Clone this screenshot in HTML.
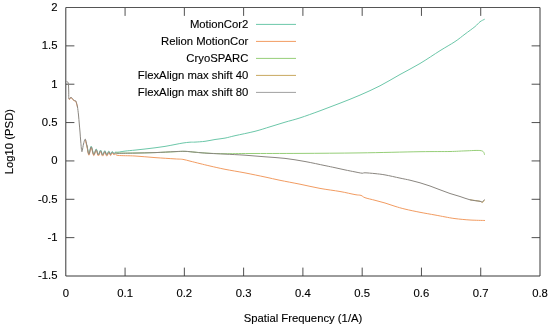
<!DOCTYPE html><html><head><meta charset="utf-8"><style>html,body{margin:0;padding:0;background:#fff;}svg{display:block;}text{font-family:'Liberation Sans', Arial, sans-serif;font-size:11.3px;fill:#000;stroke:#000;stroke-width:0.12px;}</style></head><body>
<svg width="550" height="327" viewBox="0 0 550 327">
<path d="M66.0,45.86h8.4M540.0,45.86h-8.4M66.0,84.21h8.4M540.0,84.21h-8.4M66.0,122.57h8.4M540.0,122.57h-8.4M66.0,160.93h8.4M540.0,160.93h-8.4M66.0,199.29h8.4M540.0,199.29h-8.4M66.0,237.64h8.4M540.0,237.64h-8.4M125.07,276.0v-8.4M125.07,7.5v8.4M184.35,276.0v-8.4M184.35,7.5v8.4M243.62,276.0v-8.4M243.62,7.5v8.4M302.90,276.0v-8.4M302.90,7.5v8.4M362.18,276.0v-8.4M362.18,7.5v8.4M421.45,276.0v-8.4M421.45,7.5v8.4M480.72,276.0v-8.4M480.72,7.5v8.4" stroke="#505050" stroke-width="1" fill="none"/>
<g fill="none" stroke-width="1" stroke-linejoin="round">
<path d="M87.00,145.30C87.32,146.68 88.20,153.45 88.90,153.60C89.60,153.75 90.40,146.13 91.20,146.20C92.00,146.27 92.87,153.53 93.70,154.00C94.53,154.47 95.43,148.95 96.20,149.00C96.97,149.05 97.57,154.12 98.30,154.30C99.03,154.48 99.88,150.07 100.60,150.10C101.32,150.13 101.90,154.40 102.60,154.50C103.30,154.60 104.10,150.70 104.80,150.70C105.50,150.70 106.13,154.43 106.80,154.50C107.47,154.57 108.17,151.20 108.80,151.10C109.43,151.00 110.03,153.83 110.60,153.90C111.17,153.97 111.63,151.60 112.20,151.50C112.77,151.40 113.43,153.20 114.00,153.30C114.57,153.40 114.93,152.28 115.60,152.10C116.27,151.92 116.43,152.37 118.00,152.20C119.57,152.03 122.17,151.45 125.00,151.10C127.83,150.75 131.67,150.45 135.00,150.10C138.33,149.75 141.67,149.38 145.00,149.00C148.33,148.62 151.67,148.23 155.00,147.80C158.33,147.37 161.67,146.95 165.00,146.40C168.33,145.85 172.00,145.07 175.00,144.50C178.00,143.93 180.50,143.38 183.00,143.00C185.50,142.62 188.00,142.35 190.00,142.20C192.00,142.05 192.50,142.25 195.00,142.10C197.50,141.95 201.67,141.73 205.00,141.30C208.33,140.87 211.67,140.03 215.00,139.50C218.33,138.97 221.67,138.73 225.00,138.10C228.33,137.47 230.00,136.83 235.00,135.70C240.00,134.57 249.17,132.78 255.00,131.30C260.83,129.82 265.00,128.32 270.00,126.80C275.00,125.28 280.00,123.68 285.00,122.20C290.00,120.72 294.17,119.80 300.00,117.90C305.83,116.00 313.33,113.25 320.00,110.80C326.67,108.35 333.33,105.82 340.00,103.20C346.67,100.58 353.33,98.00 360.00,95.10C366.67,92.20 373.33,89.23 380.00,85.80C386.67,82.37 393.33,78.22 400.00,74.50C406.67,70.78 413.33,67.47 420.00,63.50C426.67,59.53 434.17,54.35 440.00,50.70C445.83,47.05 450.83,44.37 455.00,41.60C459.17,38.83 461.67,36.60 465.00,34.10C468.33,31.60 472.50,28.65 475.00,26.60C477.50,24.55 478.38,23.03 480.00,21.80C481.62,20.57 483.92,19.63 484.70,19.20" stroke="#6cc7a9"/>
<path d="M85.30,140.10C85.58,141.23 86.40,144.38 87.00,146.90C87.60,149.42 88.20,155.05 88.90,155.20C89.60,155.35 90.40,147.73 91.20,147.80C92.00,147.87 92.87,155.13 93.70,155.60C94.53,156.07 95.43,150.55 96.20,150.60C96.97,150.65 97.57,155.72 98.30,155.90C99.03,156.08 99.88,151.67 100.60,151.70C101.32,151.73 101.90,156.00 102.60,156.10C103.30,156.20 104.10,152.30 104.80,152.30C105.50,152.30 106.13,156.03 106.80,156.10C107.47,156.17 108.17,152.80 108.80,152.70C109.43,152.60 110.03,155.43 110.60,155.50C111.17,155.57 111.63,153.20 112.20,153.10C112.77,153.00 113.43,154.80 114.00,154.90C114.57,155.00 114.93,153.62 115.60,153.70C116.27,153.78 114.77,155.02 118.00,155.40C121.23,155.78 128.83,155.63 135.00,156.00C141.17,156.37 148.33,157.12 155.00,157.60C161.67,158.08 170.33,158.60 175.00,158.90C179.67,159.20 180.50,159.03 183.00,159.40C185.50,159.77 187.17,160.40 190.00,161.10C192.83,161.80 196.67,162.78 200.00,163.60C203.33,164.42 205.83,165.05 210.00,166.00C214.17,166.95 219.17,168.15 225.00,169.30C230.83,170.45 238.33,171.62 245.00,172.90C251.67,174.18 259.17,175.77 265.00,177.00C270.83,178.23 274.17,179.10 280.00,180.30C285.83,181.50 293.33,182.85 300.00,184.20C306.67,185.55 313.33,187.18 320.00,188.40C326.67,189.62 334.17,190.47 340.00,191.50C345.83,192.53 351.50,193.95 355.00,194.60C358.50,195.25 359.33,194.88 361.00,195.40C362.67,195.92 362.67,196.88 365.00,197.70C367.33,198.52 371.67,199.42 375.00,200.30C378.33,201.18 381.67,202.00 385.00,203.00C388.33,204.00 391.67,205.28 395.00,206.30C398.33,207.32 400.83,208.10 405.00,209.10C409.17,210.10 415.00,211.32 420.00,212.30C425.00,213.28 430.83,214.23 435.00,215.00C439.17,215.77 441.67,216.30 445.00,216.90C448.33,217.50 450.83,218.08 455.00,218.60C459.17,219.12 465.00,219.68 470.00,220.00C475.00,220.32 482.50,220.42 485.00,220.50" stroke="#f29c62"/>
<path d="M68.80,98.20C68.92,98.42 69.13,99.60 69.50,99.50C69.87,99.40 70.40,97.52 71.00,97.60C71.60,97.68 72.52,99.45 73.10,100.00C73.68,100.55 74.05,100.67 74.50,100.90C74.95,101.13 75.43,100.87 75.80,101.40C76.17,101.93 76.42,103.10 76.70,104.10C76.98,105.10 77.37,106.85 77.50,107.40" stroke="#f29c62"/>
<path d="M115.60,152.80C116.00,152.85 114.77,153.07 118.00,153.10C121.23,153.13 128.83,153.08 135.00,153.00C141.17,152.92 148.33,152.82 155.00,152.60C161.67,152.38 170.00,151.90 175.00,151.70C180.00,151.50 181.67,151.32 185.00,151.40C188.33,151.48 190.83,151.88 195.00,152.20C199.17,152.52 205.00,153.05 210.00,153.30C215.00,153.55 218.33,153.67 225.00,153.70C231.67,153.73 237.50,153.55 250.00,153.50C262.50,153.45 281.67,153.50 300.00,153.40C318.33,153.30 340.00,153.18 360.00,152.90C380.00,152.62 405.00,151.93 420.00,151.70C435.00,151.47 442.50,151.63 450.00,151.50C457.50,151.37 459.78,151.03 465.00,150.90C470.22,150.77 478.02,150.02 481.30,150.70C484.58,151.38 484.13,154.28 484.70,155.00" stroke="#96ce78"/>
<path d="M470.00,199.80C471.67,200.05 477.92,200.85 480.00,201.30C482.08,201.75 481.75,202.72 482.50,202.50C483.25,202.28 484.17,200.42 484.50,200.00" stroke="#c9a860"/>
<path d="M66.50,81.40C66.78,81.65 67.83,81.47 68.20,82.90C68.57,84.33 68.60,87.52 68.70,90.00C68.80,92.48 68.67,96.28 68.80,97.80C68.93,99.32 69.13,99.20 69.50,99.10C69.87,99.00 70.40,97.12 71.00,97.20C71.60,97.28 72.52,99.05 73.10,99.60C73.68,100.15 74.05,100.27 74.50,100.50C74.95,100.73 75.43,100.47 75.80,101.00C76.17,101.53 76.42,102.70 76.70,103.70C76.98,104.70 77.20,105.12 77.50,107.00C77.80,108.88 78.20,112.17 78.50,115.00C78.80,117.83 79.05,121.17 79.30,124.00C79.55,126.83 79.75,129.00 80.00,132.00C80.25,135.00 80.48,138.72 80.80,142.00C81.12,145.28 81.45,151.37 81.90,151.70C82.35,152.03 82.93,146.08 83.50,144.00C84.07,141.92 84.72,138.87 85.30,139.20C85.88,139.53 86.40,143.48 87.00,146.00C87.60,148.52 88.20,154.15 88.90,154.30C89.60,154.45 90.40,146.83 91.20,146.90C92.00,146.97 92.87,154.23 93.70,154.70C94.53,155.17 95.43,149.65 96.20,149.70C96.97,149.75 97.57,154.82 98.30,155.00C99.03,155.18 99.88,150.77 100.60,150.80C101.32,150.83 101.90,155.10 102.60,155.20C103.30,155.30 104.10,151.40 104.80,151.40C105.50,151.40 106.13,155.13 106.80,155.20C107.47,155.27 108.17,151.90 108.80,151.80C109.43,151.70 110.03,154.53 110.60,154.60C111.17,154.67 111.63,152.30 112.20,152.20C112.77,152.10 113.43,153.90 114.00,154.00C114.57,154.10 114.93,152.92 115.60,152.80C116.27,152.68 114.77,153.25 118.00,153.30C121.23,153.35 128.83,153.22 135.00,153.10C141.17,152.98 148.33,152.85 155.00,152.60C161.67,152.35 170.00,151.82 175.00,151.60C180.00,151.38 181.67,151.20 185.00,151.30C188.33,151.40 192.50,151.97 195.00,152.20C197.50,152.43 197.50,152.50 200.00,152.70C202.50,152.90 205.83,153.17 210.00,153.40C214.17,153.63 219.17,153.80 225.00,154.10C230.83,154.40 238.33,154.75 245.00,155.20C251.67,155.65 258.33,156.27 265.00,156.80C271.67,157.33 278.33,157.62 285.00,158.40C291.67,159.18 298.33,160.30 305.00,161.50C311.67,162.70 320.00,164.57 325.00,165.60C330.00,166.63 331.67,166.98 335.00,167.70C338.33,168.42 341.67,169.20 345.00,169.90C348.33,170.60 352.17,171.35 355.00,171.90C357.83,172.45 360.33,173.05 362.00,173.20C363.67,173.35 362.83,172.73 365.00,172.80C367.17,172.87 371.67,173.25 375.00,173.60C378.33,173.95 380.83,174.15 385.00,174.90C389.17,175.65 395.83,177.22 400.00,178.10C404.17,178.98 406.67,179.42 410.00,180.20C413.33,180.98 416.67,181.83 420.00,182.80C423.33,183.77 426.67,184.83 430.00,186.00C433.33,187.17 436.67,188.55 440.00,189.80C443.33,191.05 446.67,192.38 450.00,193.50C453.33,194.62 456.67,195.45 460.00,196.50C463.33,197.55 466.67,199.00 470.00,199.80C473.33,200.60 477.97,200.95 480.00,201.30C482.03,201.65 481.45,202.20 482.20,201.90C482.95,201.60 484.12,199.90 484.50,199.50" stroke="#8a8680"/>
<line x1="256" y1="24.4" x2="296" y2="24.4" stroke="#6cc7a9"/>
<line x1="256" y1="41.4" x2="296" y2="41.4" stroke="#f29c62"/>
<line x1="256" y1="58.4" x2="296" y2="58.4" stroke="#96ce78"/>
<line x1="256" y1="75.4" x2="296" y2="75.4" stroke="#c9a860"/>
<line x1="256" y1="92.4" x2="296" y2="92.4" stroke="#a0a0a0"/>
</g>
<path d="M65.8,7.5H540.0" stroke="#555" stroke-width="1" fill="none"/>
<path d="M540.0,7.5V276.0H65.8V7.5" stroke="#383838" stroke-width="1" fill="none" stroke-linejoin="miter"/>
<text x="57.5" y="10.9" text-anchor="end">2</text>
<text x="57.5" y="49.3" text-anchor="end">1.5</text>
<text x="57.5" y="87.6" text-anchor="end">1</text>
<text x="57.5" y="126.0" text-anchor="end">0.5</text>
<text x="57.5" y="164.3" text-anchor="end">0</text>
<text x="57.5" y="202.7" text-anchor="end">-0.5</text>
<text x="57.5" y="241.0" text-anchor="end">-1</text>
<text x="57.5" y="279.4" text-anchor="end">-1.5</text>
<text x="65.8" y="296.7" text-anchor="middle">0</text>
<text x="125.1" y="296.7" text-anchor="middle">0.1</text>
<text x="184.3" y="296.7" text-anchor="middle">0.2</text>
<text x="243.6" y="296.7" text-anchor="middle">0.3</text>
<text x="302.9" y="296.7" text-anchor="middle">0.4</text>
<text x="362.2" y="296.7" text-anchor="middle">0.5</text>
<text x="421.4" y="296.7" text-anchor="middle">0.6</text>
<text x="480.7" y="296.7" text-anchor="middle">0.7</text>
<text x="540.0" y="296.7" text-anchor="middle">0.8</text>
<text x="303" y="322.4" text-anchor="middle">Spatial Frequency (1/A)</text>
<text transform="translate(13,141.6) rotate(-90)" text-anchor="middle">Log10 (PSD)</text>
<text x="248.3" y="27.9" text-anchor="end">MotionCor2</text>
<text x="248.3" y="44.9" text-anchor="end">Relion MotionCor</text>
<text x="248.3" y="61.9" text-anchor="end">CryoSPARC</text>
<text x="248.3" y="78.9" text-anchor="end">FlexAlign max shift 40</text>
<text x="248.3" y="95.9" text-anchor="end">FlexAlign max shift 80</text>
</svg></body></html>
